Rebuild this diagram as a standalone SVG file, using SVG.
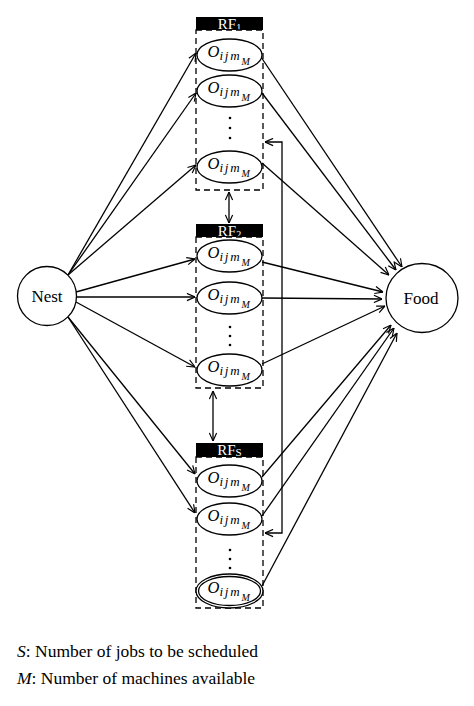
<svg xmlns="http://www.w3.org/2000/svg" width="474" height="706" viewBox="0 0 474 706">
<style>
.edge{fill:none;stroke:#000;stroke-width:1.3}
.box{fill:none;stroke:#000;stroke-width:1.3;stroke-dasharray:6 4}
.bar{fill:#000}
.hd{font-family:"Liberation Serif",serif;font-size:15px;fill:#fff;text-anchor:middle}
.el{fill:#fff;stroke:#000;stroke-width:1.3}
.op{font-family:"Liberation Serif",serif;font-style:italic;fill:#000;font-size:16.5px}
.sb{font-size:13px;letter-spacing:1.8px}
.ssb{font-size:10px;letter-spacing:0}
.dot{fill:#000}
.lbl{font-family:"Liberation Serif",serif;font-size:17px;fill:#000;text-anchor:middle}
.note{font-family:"Liberation Serif",serif;font-size:17.5px;fill:#000}
</style>
<defs>
<marker id="ah" viewBox="0 0 10 10" markerUnits="userSpaceOnUse" markerWidth="9" markerHeight="9" refX="10" refY="5" orient="auto-start-reverse">
<path d="M1,1 L10,5 L1,9" fill="none" stroke="#000" stroke-width="1.3"/>
</marker>
<g id="optext">
<text class="op" x="-22" y="2">O<tspan class="sb" dy="3">ijm</tspan><tspan class="ssb" dy="5">M</tspan></text>
</g>
<g id="op">
<ellipse class="el" cx="0" cy="0" rx="32.5" ry="16"/>
<use href="#optext"/>
</g>
</defs>

<g id="connectors">
<line class="edge" x1="68" y1="275" x2="196" y2="53" marker-end="url(#ah)"/>
<line class="edge" x1="68" y1="275" x2="196" y2="93" marker-end="url(#ah)"/>
<line class="edge" x1="68" y1="275" x2="196" y2="165" marker-end="url(#ah)"/>
<line class="edge" x1="76" y1="292" x2="195" y2="259" marker-end="url(#ah)"/>
<line class="edge" x1="77" y1="297" x2="195" y2="297" marker-end="url(#ah)"/>
<line class="edge" x1="76" y1="302" x2="195" y2="367" marker-end="url(#ah)"/>
<line class="edge" x1="68" y1="317" x2="195" y2="474" marker-end="url(#ah)"/>
<line class="edge" x1="68" y1="317" x2="195" y2="513" marker-end="url(#ah)"/>
<line class="edge" x1="261" y1="57" x2="402" y2="267" marker-end="url(#ah)"/>
<line class="edge" x1="262" y1="93" x2="396" y2="270" marker-end="url(#ah)"/>
<line class="edge" x1="262" y1="163" x2="389" y2="275" marker-end="url(#ah)"/>
<line class="edge" x1="262" y1="262" x2="383" y2="292" marker-end="url(#ah)"/>
<line class="edge" x1="262" y1="298" x2="382" y2="299" marker-end="url(#ah)"/>
<line class="edge" x1="262" y1="364" x2="385" y2="306" marker-end="url(#ah)"/>
<line class="edge" x1="262" y1="477" x2="391" y2="325" marker-end="url(#ah)"/>
<line class="edge" x1="262" y1="516" x2="394" y2="328" marker-end="url(#ah)"/>
<line class="edge" x1="262" y1="586" x2="397" y2="333" marker-end="url(#ah)"/>
<line class="edge" x1="229" y1="192" x2="229" y2="223" marker-start="url(#ah)" marker-end="url(#ah)"/>
<line class="edge" x1="213" y1="391" x2="213" y2="441" marker-start="url(#ah)" marker-end="url(#ah)"/>
<path class="edge" d="M265,142 H282 V533 H265" marker-start="url(#ah)" marker-end="url(#ah)"/>
</g>

<g id="nest">
<circle class="el" cx="47" cy="296" r="29.5"/>
<text class="lbl" x="47" y="302">Nest</text>
</g>

<g id="food">
<ellipse class="el" cx="422" cy="298" rx="36" ry="34.5"/>
<text class="lbl" x="421" y="304">Food</text>
</g>

<g id="rf1">
<rect class="bar" x="196" y="17" width="67" height="13"/>
<text class="hd" x="229.5" y="29">RF<tspan font-size="10" dy="2">1</tspan></text>
<rect class="box" x="196" y="30" width="67" height="160"/>
<use href="#op" x="229.5" y="55"/>
<use href="#op" x="229.5" y="91"/>
<circle class="dot" cx="230" cy="118" r="1.3"/>
<circle class="dot" cx="230" cy="128" r="1.3"/>
<circle class="dot" cx="230" cy="138" r="1.3"/>
<use href="#op" x="229.5" y="167"/>
</g>

<g id="rf2">
<rect class="bar" x="196" y="224" width="67" height="13"/>
<text class="hd" x="229.5" y="236">RF<tspan font-size="10" dy="2">2</tspan></text>
<rect class="box" x="196" y="237" width="67" height="151"/>
<use href="#op" x="229.5" y="256"/>
<use href="#op" x="229.5" y="298"/>
<circle class="dot" cx="230" cy="327" r="1.3"/>
<circle class="dot" cx="230" cy="336" r="1.3"/>
<circle class="dot" cx="230" cy="345" r="1.3"/>
<use href="#op" x="229.5" y="370"/>
</g>

<g id="rfs">
<rect class="bar" x="196" y="443" width="67" height="14"/>
<text class="hd" x="229.5" y="455">RF<tspan font-size="11" dy="1">S</tspan></text>
<rect class="box" x="196" y="457" width="67" height="151"/>
<use href="#op" x="229.5" y="481"/>
<use href="#op" x="229.5" y="519"/>
<circle class="dot" cx="230" cy="550" r="1.3"/>
<circle class="dot" cx="230" cy="559" r="1.3"/>
<circle class="dot" cx="230" cy="568" r="1.3"/>
<ellipse class="el" cx="229.5" cy="591" rx="33.5" ry="17"/>
<ellipse class="el" cx="229.5" cy="591" rx="31" ry="14.5"/>
<use href="#optext" x="229.5" y="591"/>
</g>

<g id="legend">
<text class="note" x="17" y="657"><tspan font-style="italic">S</tspan>: Number of jobs to be scheduled</text>
<text class="note" x="17" y="684"><tspan font-style="italic">M</tspan>: Number of machines available</text>
</g>
</svg>
